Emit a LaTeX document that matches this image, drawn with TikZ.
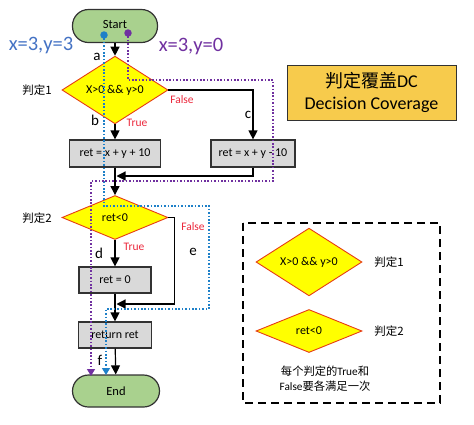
\documentclass[tikz,border=0pt]{standalone}
\usepackage{fontspec}
\setmainfont{Carlito}
\newfontfamily\cjk{Noto Sans CJK SC}
\usetikzlibrary{shapes.geometric,arrows.meta}
\definecolor{termfill}{RGB}{169,209,142}
\definecolor{boxfill}{RGB}{217,217,217}
\definecolor{dfill}{RGB}{255,255,0}
\definecolor{dline}{RGB}{230,60,20}
\definecolor{pathblue}{RGB}{30,128,200}
\definecolor{txtblue}{RGB}{68,114,196}
\definecolor{pathpurple}{RGB}{112,48,160}
\definecolor{labred}{RGB}{235,40,60}
\definecolor{titlefill}{RGB}{247,203,76}
\definecolor{edge}{RGB}{50,50,50}
\begin{document}
\begin{tikzpicture}[x=1pt,y=-1pt,
  term/.style={draw=edge,line width=1.2pt,fill=termfill,rounded corners=16pt,minimum width=85pt,minimum height=33pt,inner sep=0pt,font=\fontsize{12.5}{14}\selectfont},
  procbox/.style={draw=edge,line width=1.2pt,fill=boxfill,inner sep=0pt,font=\fontsize{12}{14}\selectfont},
  decis/.style={diamond,draw=dline,line width=0.9pt,fill=dfill,inner sep=0pt,minimum width=106pt,minimum height=43pt,font=\fontsize{12}{14}\selectfont},
  arr/.style={line width=1.2pt,-{Triangle[width=9pt,length=9pt]}},
  flow/.style={line width=1.2pt},
  edgelab/.style={font=\fontsize{15}{17}\selectfont},
  tf/.style={text=labred,font=\fontsize{11.5}{14}\selectfont},
  side/.style={font=\cjk\fontsize{11.5}{14}\selectfont},
  bluepath/.style={draw=pathblue,line width=1.3pt,dash pattern=on 1.6pt off 1.8pt,-{Triangle[width=8pt,length=7pt]}},
  purplepath/.style={draw=pathpurple,line width=1.3pt,dash pattern=on 1.6pt off 1.8pt,-{Triangle[width=8pt,length=7pt]}}
]
\useasboundingbox (0,0) rectangle (474,424);

% main flow nodes
\node[term] (start) at (115,26) {\raisebox{3pt}{Start}};
\node[decis] (d1) at (115,90) {X>0 \&\& y>0};
\node[procbox,minimum width=91pt,minimum height=27pt] (b1) at (115,153.5) {ret = x + y + 10};
\node[procbox,minimum width=84pt,minimum height=27pt] (b2) at (253,153.5) {ret = x + y - 10};
\node[decis,minimum height=44pt] (d2) at (115,217.5) {ret<0};
\node[procbox,minimum width=72pt,minimum height=26pt] (b3) at (115,280) {ret = 0};
\node[procbox,minimum width=73pt,minimum height=26pt] (b4) at (115,335) {return ret};
\node[term,minimum width=87pt,minimum height=32pt] (end) at (116,391) {End};

% side labels
\node[side] (j1) at (37,90) {判定1};
\node[side] (j2) at (37,218) {判定2};

% merge points
\coordinate (m1) at (116,176);
\coordinate (m2) at (116,304);

% connectors
\draw[arr] (start) -- (d1);
\draw[arr] (d1) -- (b1);
\draw[arr] (d1.east) -| (b2.north);
\draw[flow] (b2.south) |- ([xshift=9pt]m1);
\draw[arr] ([xshift=9pt]m1) -- ([xshift=0.5pt]m1);
\draw[arr] (b1) -- (d2);
\draw[arr] (d2) -- (b3);
\draw[flow] (d2.east) -- ++(6,0) |- ([xshift=9pt]m2);
\draw[arr] ([xshift=9pt]m2) -- ([xshift=0.5pt]m2);
\draw[arr] (b3) -- (b4);
\draw[arr] (b4) -- (end);

% edge labels
\node[edgelab] (la) at (97,57) {a};
\node[edgelab] (lb) at (95,120) {b};
\node[edgelab] (lc) at (248,115) {c};
\node[edgelab] (ld) at (99,253) {d};
\node[edgelab] (le) at (193,252) {e};
\node[edgelab] (lf) at (100,360) {f};
\node[tf] (f1) at (182,100) {False};
\node[tf] (t1) at (137,123) {True};
\node[tf] (f2) at (193,227) {False};
\node[tf] (t2) at (134,247) {True};

% test case texts
\node[text=txtblue,font=\fontsize{20.5}{22}\selectfont] (tc1) at (41,45) {x=3,y=3};
\node[text=pathpurple,font=\fontsize{20.5}{22}\selectfont] (tc2) at (191,46) {x=3,y=0};

% title box
\node[draw=edge,line width=1pt,fill=titlefill,minimum width=169pt,minimum height=55pt,align=center,inner sep=0pt,font=\fontsize{18}{22}\selectfont] (title) at (371.5,92.5) {{\cjk 判定覆盖}DC\\Decision Coverage};

% legend
\draw[line width=1.3pt,dash pattern=on 8pt off 5pt] (243,223) rectangle (440,403);
\node[decis,minimum height=42pt] (ld1) at (309,262) {X>0 \&\& y>0};
\node[decis] (ld2) at (309,331) {ret<0};
\node[side] (lj1) at (389,262) {判定1};
\node[side] (lj2) at (389,331) {判定2};
\node[align=center,font=\fontsize{11.3}{15}\selectfont] (note) at (325,378.5) {{\cjk 每个判定的}True{\cjk 和}\\False{\cjk 要各满足一次}};

% execution paths
\node[circle,fill=pathblue,inner sep=0pt,minimum size=7.5pt] (bdot) at (104,35) {};
\node[circle,fill=pathpurple,inner sep=0pt,minimum size=7.5pt] (pdot) at (128,33) {};
\coordinate (bp1) at (104,206);
\coordinate (bp2) at (209,206);
\coordinate (bp3) at (209,309);
\coordinate (bp4) at (106,309);
\coordinate (bend) at (106,375);
\coordinate (pp1) at (128,80);
\coordinate (pp2) at (273,80);
\coordinate (pp3) at (273,181);
\coordinate (pp4) at (91,181);
\coordinate (pend) at (91,376);
\draw[bluepath] (bdot.center) -- (bp1) -- (bp2) -- (bp3) -- (bp4) -- (bend);
\draw[purplepath] (pdot.center) -- (pp1) -- (pp2) -- (pp3) -- (pp4) -- (pend);
\end{tikzpicture}
\end{document}
